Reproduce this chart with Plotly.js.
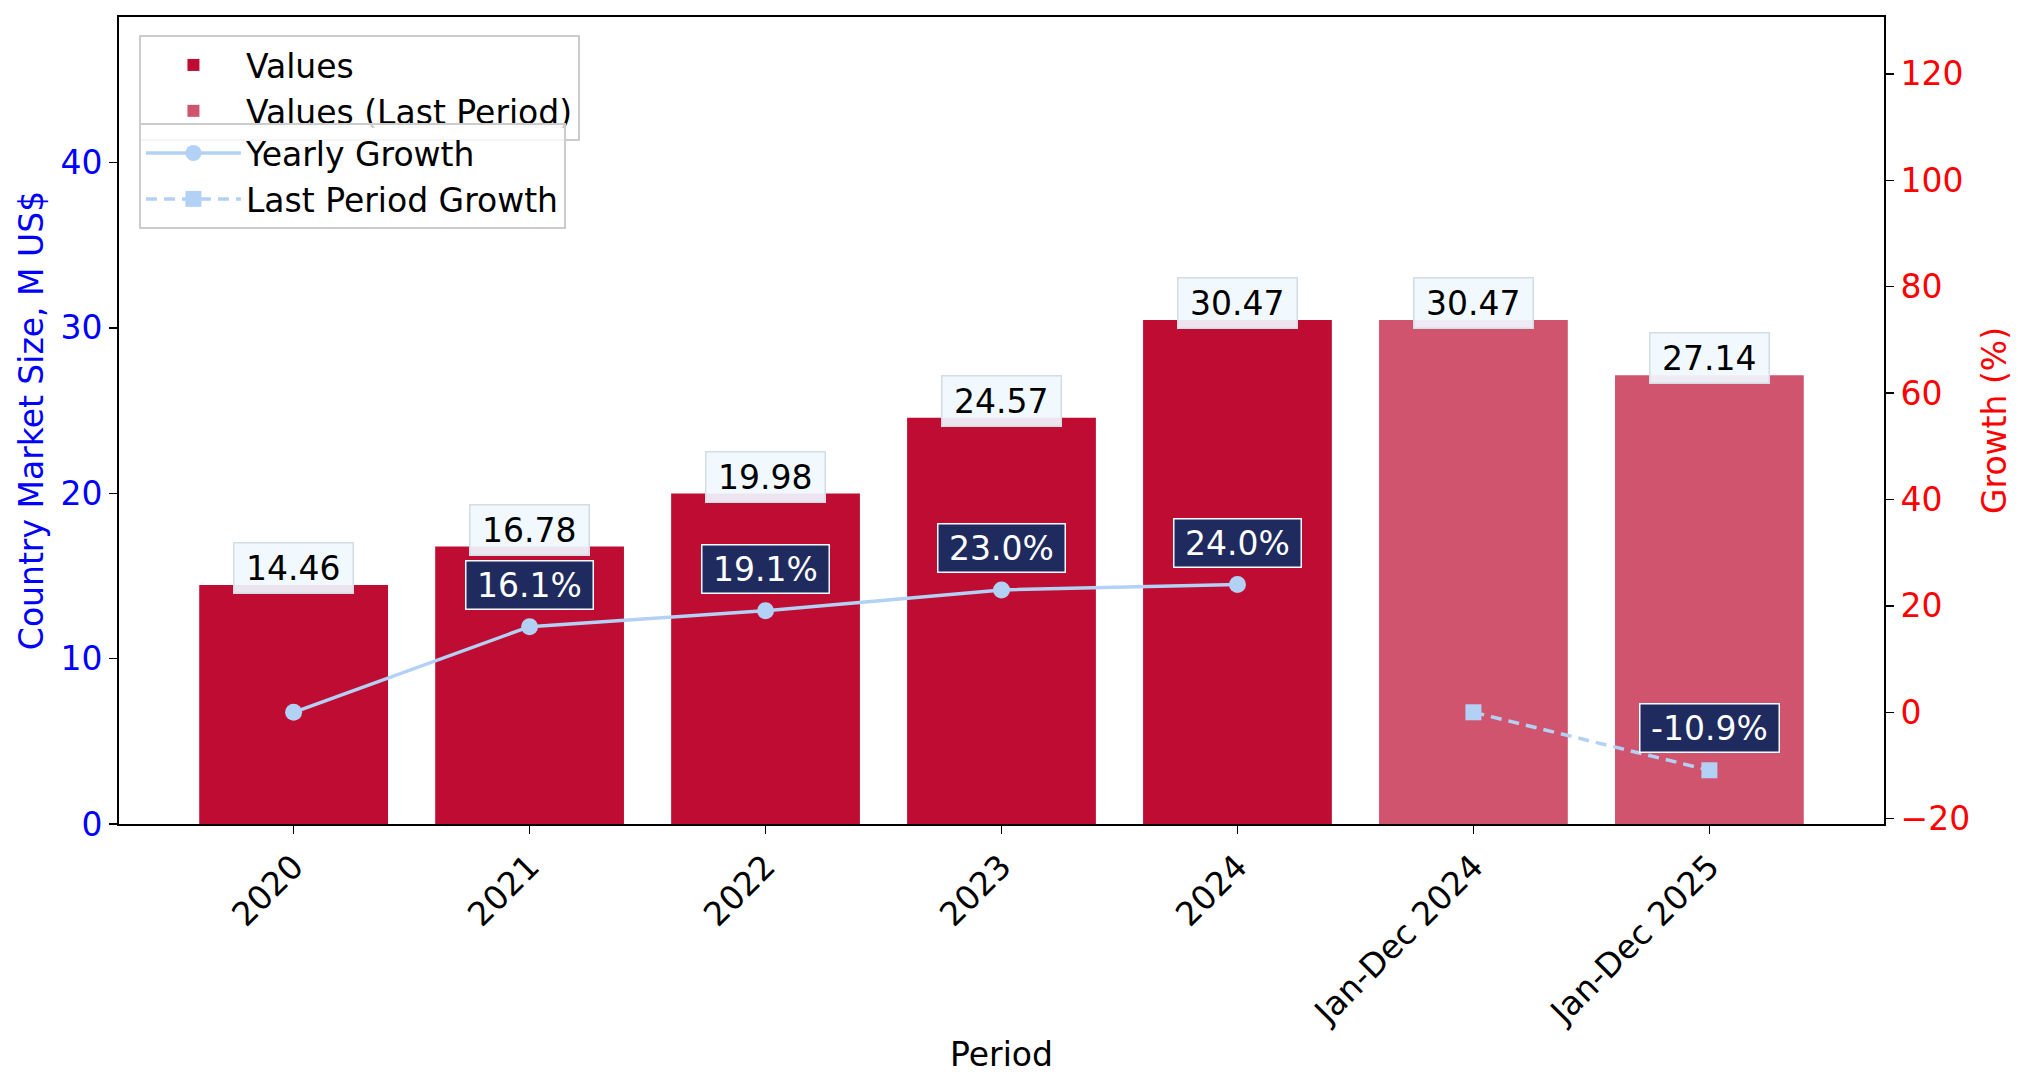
<!DOCTYPE html>
<html>
<head>
<meta charset="utf-8">
<script src="https://cdn.plot.ly/plotly-3.0.1.min.js"></script>
<style>html,body{margin:0;padding:0;background:#fff;}#chart{width:2032px;height:1087px;}</style>
</head>
<body>
<div id="chart"></div>
<script>
// ---- data ----
const yearCategories = ["2020", "2021", "2022", "2023", "2024"];
const periodCategories = ["Jan-Dec 2024", "Jan-Dec 2025"];
const yearValues = [14.46, 16.78, 19.98, 24.57, 30.47];
const periodValues = [30.47, 27.14];
const yearlyGrowth = [0, 16.1, 19.1, 23.0, 24.0];
const periodGrowth = [0, -10.9];
const leftTicks = [0, 10, 20, 30, 40];
const rightTicks = [-20, 0, 20, 40, 60, 80, 100, 120];

const FONT = "DejaVu Sans, Liberation Sans, sans-serif";
const FS = 33;
const barColor = "#BE0C32";
const barColorLast = "rgba(190,12,50,0.7)";
const lineColor = "#b3d1f5";
const navy = "#1f2b5e";
const TS = "\u2009";

const allCats = yearCategories.concat(periodCategories);
const allVals = yearValues.concat(periodValues);

const traces = [
  {type: "bar", name: "Values", x: yearCategories, y: yearValues, width: 0.8,
   marker: {color: barColor, line: {width: 0}}, legend: "legend"},
  {type: "bar", name: "Values (Last Period)", x: periodCategories, y: periodValues, width: 0.8,
   marker: {color: barColorLast, line: {width: 0}}, legend: "legend"},
  {type: "scatter", mode: "lines+markers", name: "Yearly Growth", x: yearCategories, y: yearlyGrowth,
   yaxis: "y2", line: {color: lineColor, width: 3.5}, marker: {color: lineColor, size: 17, symbol: "circle"},
   legend: "legend2"},
  {type: "scatter", mode: "lines+markers", name: "Last Period Growth", x: periodCategories, y: periodGrowth,
   yaxis: "y2", line: {color: lineColor, width: 3.5, dash: "11px,7px"}, marker: {color: lineColor, size: 16, symbol: "square"},
   legend: "legend2"}
];

const annotations = [];
// value labels (category position taken from the category list)
allCats.forEach((c, i) => {
  annotations.push({x: allCats.indexOf(c), y: allVals[i], xref: "x", yref: "y", yshift: 17, yanchor: "middle",
    text: TS + allVals[i].toFixed(2) + TS, showarrow: false,
    font: {family: FONT, size: FS, color: "#000"},
    bgcolor: "rgba(240,248,255,0.92)", bordercolor: "#d4dce4", borderwidth: 1.5, borderpad: 5});
});
function growthLabels(cats, vals) {
  for (let i = 1; i < cats.length; i++) {
    annotations.push({x: allCats.indexOf(cats[i]), y: vals[i], xref: "x", yref: "y2", yshift: 42, yanchor: "middle",
      text: TS + vals[i].toFixed(1) + "%" + TS, showarrow: false,
      font: {family: FONT, size: FS, color: "#fff"},
      bgcolor: navy, bordercolor: "#ffffff", borderwidth: 1.5, borderpad: 4});
  }
}
growthLabels(yearCategories, yearlyGrowth);
growthLabels(periodCategories, periodGrowth);

const layout = {
  width: 2032, height: 1087,
  margin: {l: 119, r: 148, t: 17, b: 263},
  paper_bgcolor: "#fff", plot_bgcolor: "#fff",
  font: {family: FONT, size: FS, color: "#000"},
  barmode: "overlay",
  showlegend: true,
  xaxis: {
    type: "category", categoryorder: "array", categoryarray: allCats,
    range: [-0.74, 6.74], automargin: false,
    showline: true, linecolor: "#000", linewidth: 2, mirror: true,
    ticks: "outside", ticklen: 8, tickwidth: 1.5, tickcolor: "#000",
    tickangle: -45, tickfont: {family: FONT, size: FS, color: "#000"},
    showgrid: false, zeroline: false,
    title: {text: "Period", font: {family: FONT, size: FS, color: "#000"}, standoff: 12}
  },
  yaxis: {
    range: [0, 48.8], tickvals: leftTicks, automargin: false,
    showline: true, linecolor: "#000", linewidth: 2,
    ticks: "outside", ticklen: 8, tickwidth: 1.5, tickcolor: "#000",
    tickfont: {family: FONT, size: FS, color: "#0000ff"},
    showgrid: false, zeroline: false,
    title: {text: "Country Market Size, M US$", font: {family: FONT, size: FS, color: "#0000ff"}, standoff: 7}
  },
  yaxis2: {
    overlaying: "y", side: "right", anchor: "x",
    range: [-21, 130.7], tickvals: rightTicks, automargin: false,
    showline: true, linecolor: "#000", linewidth: 2,
    ticks: "outside", ticklen: 8, tickwidth: 1.5, tickcolor: "#000",
    tickfont: {family: FONT, size: FS, color: "#ff0000"},
    showgrid: false, zeroline: false,
    title: {text: "Growth (%)", font: {family: FONT, size: FS, color: "#ff0000"}, standoff: 14}
  },
  legend: {
    x: 0.0113, y: 0.9777, xanchor: "left", yanchor: "top",
    bgcolor: "rgba(255,255,255,0.8)", bordercolor: "#cccccc", borderwidth: 2,
    font: {family: FONT, size: FS, color: "#000"}, itemwidth: 95, tracegroupgap: 0
  },
  legend2: {
    x: 0.0113, y: 0.8686, xanchor: "left", yanchor: "top",
    bgcolor: "rgba(255,255,255,0.8)", bordercolor: "#cccccc", borderwidth: 2,
    font: {family: FONT, size: FS, color: "#000"}, itemwidth: 95, tracegroupgap: 0
  },
  annotations: annotations
};

Plotly.newPlot("chart", traces, layout, {displayModeBar: false, staticPlot: true});
</script>
</body>
</html>
